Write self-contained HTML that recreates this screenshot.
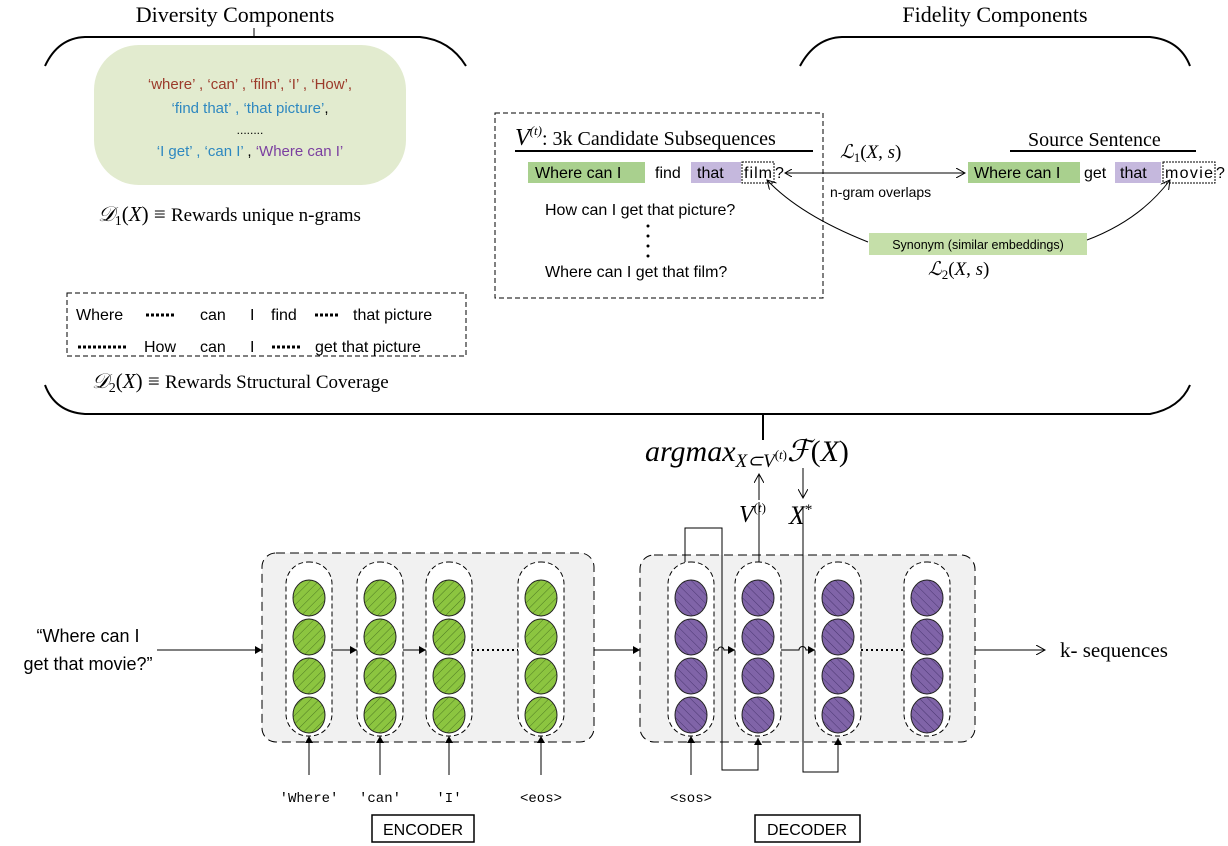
<!DOCTYPE html>
<html><head><meta charset="utf-8"><style>
body{margin:0;background:#fff;}
svg{display:block;}
.s{font-family:"Liberation Sans",sans-serif;}
.r{font-family:"Liberation Serif",serif;}
.m{font-family:"Liberation Mono",monospace;}
</style></head><body>
<svg width="1228" height="846" viewBox="0 0 1228 846" xmlns="http://www.w3.org/2000/svg">
<defs>
<pattern id="hg" width="6" height="6" patternUnits="userSpaceOnUse" patternTransform="rotate(45)">
<rect width="6" height="6" fill="#8cc540"/><line x1="0" y1="0" x2="0" y2="6" stroke="#4e7a22" stroke-width="1"/></pattern>
<pattern id="hp" width="6" height="6" patternUnits="userSpaceOnUse" patternTransform="rotate(-45)">
<rect width="6" height="6" fill="#8064a8"/><line x1="0" y1="0" x2="0" y2="6" stroke="#4a3670" stroke-width="1"/></pattern>
<marker id="a" markerWidth="10" markerHeight="10" refX="9" refY="5" orient="auto" markerUnits="userSpaceOnUse"><path d="M0,0 L9,5 L0,10" fill="none" stroke="#000" stroke-width="1"/></marker>
<marker id="af" markerWidth="8" markerHeight="8" refX="7" refY="4" orient="auto" markerUnits="userSpaceOnUse"><path d="M0,0 L7,4 L0,8 z" fill="#000"/></marker>
<marker id="as" markerWidth="8" markerHeight="8" refX="1" refY="4" orient="auto" markerUnits="userSpaceOnUse"><path d="M8,0 L1,4 L8,8" fill="none" stroke="#000" stroke-width="1"/></marker>
</defs>

<text x="235" y="22" class="r" font-size="22" text-anchor="middle">Diversity Components</text>
<text x="995" y="22" class="r" font-size="22" text-anchor="middle">Fidelity Components</text>
<g fill="none" stroke="#000" stroke-width="2">
<path d="M45,66 Q58,38 85,37 L420,37 Q450,40 466,66"/>
<line x1="254" y1="28" x2="254" y2="37" stroke-width="1"/>
<path d="M800,66 Q815,38 842,37 L1150,37 Q1180,40 1190,66"/>
<path d="M45,385 Q55,412 85,414 L1150,414 Q1180,408 1190,385"/>
<line x1="763" y1="414" x2="763" y2="440"/>
</g>

<rect x="94" y="45" width="312" height="140" rx="45" fill="#e2ebcf"/>
<g class="s" font-size="15" text-anchor="middle">
<text x="250" y="89"><tspan fill="#9b3a2a">‘where’ , ‘can’ , ‘film’, ‘I’ ,  ‘How’,</tspan></text>
<text x="250" y="113" fill="#2e88c0">‘find that’ ,  ‘that picture’<tspan fill="#000">,</tspan></text>
<text x="250" y="134" fill="#000" font-size="12">........</text>
<text x="250" y="156"><tspan fill="#2e88c0">‘I get’ ,  ‘can I’</tspan> , <tspan fill="#7b3fa0">‘Where can I’</tspan></text>
</g>
<text x="98" y="221" class="r" font-size="21"><tspan font-style="italic">𝒟</tspan><tspan font-size="14" dy="4">1</tspan><tspan dy="-4">(</tspan><tspan font-style="italic">X</tspan>) ≡  <tspan font-size="19">Rewards unique n-grams</tspan></text>

<rect x="67" y="293" width="399" height="63" fill="none" stroke="#000" stroke-dasharray="5,3"/>
<g class="s" font-size="16">
<text x="76" y="320">Where</text><text x="200" y="320">can</text><text x="250" y="320">I</text><text x="271" y="320">find</text><text x="353" y="320">that picture</text>
<text x="144" y="352">How</text><text x="200" y="352">can</text><text x="250" y="352">I</text><text x="315" y="352">get that picture</text>
</g>
<g stroke="#000" stroke-width="3" stroke-dasharray="3,2">
<line x1="146" y1="315" x2="176" y2="315"/><line x1="315" y1="315" x2="338" y2="315"/>
<line x1="78" y1="347" x2="128" y2="347"/><line x1="272" y1="347" x2="302" y2="347"/>
</g>
<text x="92" y="388" class="r" font-size="21"><tspan font-style="italic">𝒟</tspan><tspan font-size="14" dy="4">2</tspan><tspan dy="-4">(</tspan><tspan font-style="italic">X</tspan>) ≡  <tspan font-size="19">Rewards Structural Coverage</tspan></text>

<rect x="495" y="113" width="328" height="185" fill="none" stroke="#000" stroke-dasharray="5,3"/>
<text x="515" y="145" class="r" font-size="20"><tspan font-style="italic" font-size="24">V</tspan><tspan font-size="13" dy="-10" font-style="italic">(t)</tspan><tspan dy="10">: 3k Candidate Subsequences</tspan></text>
<line x1="515" y1="151" x2="813" y2="151" stroke="#000" stroke-width="2"/>
<rect x="528" y="162" width="117" height="21" fill="#a9d08e"/>
<rect x="691" y="162" width="50" height="21" fill="#c5b8dd"/>
<rect x="742" y="162" width="32" height="21" fill="none" stroke="#000" stroke-dasharray="2,1"/>
<g class="s" font-size="16">
<text x="535" y="178">Where can I</text><text x="655" y="178">find</text><text x="697" y="178">that</text><text x="744" y="178" textLength="28">film</text><text x="775" y="178">?</text>
<text x="545" y="215">How can I get that picture?</text>
<text x="545" y="277">Where can I get that film?</text>
</g>
<g fill="#000"><circle cx="648" cy="226" r="1.5"/><circle cx="648" cy="236" r="1.5"/><circle cx="648" cy="246" r="1.5"/><circle cx="648" cy="256" r="1.5"/></g>

<text x="840" y="158" class="r" font-size="19" font-style="italic">ℒ<tspan font-size="13" dy="4" font-style="normal">1</tspan><tspan dy="-4" font-style="normal">(</tspan>X<tspan font-style="normal">, </tspan>s<tspan font-style="normal">)</tspan></text>
<line x1="785" y1="173" x2="965" y2="173" stroke="#000" marker-start="url(#as)" marker-end="url(#a)"/>
<text x="830" y="197" class="s" font-size="14">n-gram overlaps</text>

<text x="1028" y="146" class="r" font-size="20">Source Sentence</text>
<line x1="1010" y1="151" x2="1196" y2="151" stroke="#000" stroke-width="2"/>
<rect x="968" y="162" width="112" height="21" fill="#a9d08e"/>
<rect x="1115" y="162" width="46" height="21" fill="#c5b8dd"/>
<rect x="1163" y="162" width="52" height="21" fill="none" stroke="#000" stroke-dasharray="2,1"/>
<g class="s" font-size="16">
<text x="974" y="178">Where can I</text><text x="1084" y="178">get</text><text x="1120" y="178">that</text><text x="1165" y="178" textLength="48">movie</text><text x="1216" y="178">?</text>
</g>
<rect x="869" y="233" width="218" height="22" fill="#c5dfa9"/>
<text x="978" y="249" class="s" font-size="12.5" text-anchor="middle">Synonym (similar embeddings)</text>
<text x="928" y="275" class="r" font-size="19" font-style="italic">ℒ<tspan font-size="13" dy="4" font-style="normal">2</tspan><tspan dy="-4" font-style="normal">(</tspan>X<tspan font-style="normal">, </tspan>s<tspan font-style="normal">)</tspan></text>
<path d="M868,242 Q800,215 767,180" fill="none" stroke="#000" marker-end="url(#a)"/>
<path d="M1087,240 Q1140,220 1170,180" fill="none" stroke="#000" marker-end="url(#a)"/>

<text x="645" y="461" class="r" font-size="30" font-style="italic">argmax<tspan font-size="19" dy="6">X⊂V</tspan><tspan font-size="13" dy="-8" font-style="normal">(</tspan><tspan font-size="13">t</tspan><tspan font-size="13" font-style="normal">)</tspan><tspan dy="2" font-size="30">ℱ</tspan><tspan font-style="normal">(</tspan>X<tspan font-style="normal">)</tspan></text>
<line x1="759" y1="500" x2="759" y2="474" stroke="#000" marker-end="url(#a)"/>
<line x1="803" y1="468" x2="803" y2="498" stroke="#000" marker-end="url(#a)"/>
<text x="739" y="522" class="r" font-size="24" font-style="italic">V<tspan font-size="13" dy="-10" font-style="normal">(</tspan><tspan font-size="13">t</tspan><tspan font-size="13" font-style="normal">)</tspan></text>
<text x="789" y="524" class="r" font-size="26" font-style="italic">X<tspan font-size="15" dy="-10" font-style="normal">*</tspan></text>

<rect x="262" y="553" width="332" height="189" rx="14" fill="#f1f1f1" stroke="#000" stroke-dasharray="9,5"/>
<rect x="640" y="555" width="335" height="187" rx="14" fill="#f1f1f1" stroke="#000" stroke-dasharray="9,5"/>

<g fill="none" stroke="#000" stroke-dasharray="5,3">
<rect x="286" y="562" width="46" height="174" rx="22" fill="#fff"/>
<rect x="357" y="562" width="46" height="174" rx="22" fill="#fff"/>
<rect x="426" y="562" width="46" height="174" rx="22" fill="#fff"/>
<rect x="518" y="562" width="46" height="174" rx="22" fill="#fff"/>
<rect x="668" y="562" width="46" height="174" rx="22" fill="#fff"/>
<rect x="735" y="562" width="46" height="174" rx="22" fill="#fff"/>
<rect x="815" y="562" width="46" height="174" rx="22" fill="#fff"/>
<rect x="904" y="562" width="46" height="174" rx="22" fill="#fff"/>
</g>
<g stroke="#222" stroke-width="1">
<g fill="url(#hg)">
<ellipse cx="309" cy="598" rx="16" ry="18"/><ellipse cx="309" cy="637" rx="16" ry="18"/><ellipse cx="309" cy="676" rx="16" ry="18"/><ellipse cx="309" cy="715" rx="16" ry="18"/>
<ellipse cx="380" cy="598" rx="16" ry="18"/><ellipse cx="380" cy="637" rx="16" ry="18"/><ellipse cx="380" cy="676" rx="16" ry="18"/><ellipse cx="380" cy="715" rx="16" ry="18"/>
<ellipse cx="449" cy="598" rx="16" ry="18"/><ellipse cx="449" cy="637" rx="16" ry="18"/><ellipse cx="449" cy="676" rx="16" ry="18"/><ellipse cx="449" cy="715" rx="16" ry="18"/>
<ellipse cx="541" cy="598" rx="16" ry="18"/><ellipse cx="541" cy="637" rx="16" ry="18"/><ellipse cx="541" cy="676" rx="16" ry="18"/><ellipse cx="541" cy="715" rx="16" ry="18"/>
</g>
<g fill="url(#hp)">
<ellipse cx="691" cy="598" rx="16" ry="18"/><ellipse cx="691" cy="637" rx="16" ry="18"/><ellipse cx="691" cy="676" rx="16" ry="18"/><ellipse cx="691" cy="715" rx="16" ry="18"/>
<ellipse cx="758" cy="598" rx="16" ry="18"/><ellipse cx="758" cy="637" rx="16" ry="18"/><ellipse cx="758" cy="676" rx="16" ry="18"/><ellipse cx="758" cy="715" rx="16" ry="18"/>
<ellipse cx="838" cy="598" rx="16" ry="18"/><ellipse cx="838" cy="637" rx="16" ry="18"/><ellipse cx="838" cy="676" rx="16" ry="18"/><ellipse cx="838" cy="715" rx="16" ry="18"/>
<ellipse cx="927" cy="598" rx="16" ry="18"/><ellipse cx="927" cy="637" rx="16" ry="18"/><ellipse cx="927" cy="676" rx="16" ry="18"/><ellipse cx="927" cy="715" rx="16" ry="18"/>
</g>
</g>

<g stroke="#000" fill="none">
<line x1="157" y1="650" x2="262" y2="650" marker-end="url(#af)"/>
<line x1="332" y1="650" x2="357" y2="650" marker-end="url(#af)"/>
<line x1="403" y1="650" x2="426" y2="650" marker-end="url(#af)"/>
<line x1="472" y1="650" x2="518" y2="650" stroke-dasharray="2,3" stroke-width="2"/>
<line x1="594" y1="650" x2="640" y2="650" marker-end="url(#af)"/>
<path d="M714,650 L718,650 A3,3 0 0 1 724,650 L735,650" marker-end="url(#af)"/>
<path d="M781,650 L799,650 A3,3 0 0 1 806,650 L815,650" marker-end="url(#af)"/>
<line x1="861" y1="650" x2="904" y2="650" stroke-dasharray="2,3" stroke-width="2"/>
<line x1="975" y1="650" x2="1045" y2="650" marker-end="url(#a)"/>
<line x1="309" y1="775" x2="309" y2="736" marker-end="url(#af)"/>
<line x1="380" y1="775" x2="380" y2="736" marker-end="url(#af)"/>
<line x1="449" y1="775" x2="449" y2="736" marker-end="url(#af)"/>
<line x1="541" y1="775" x2="541" y2="736" marker-end="url(#af)"/>
<line x1="691" y1="775" x2="691" y2="736" marker-end="url(#af)"/>
<path d="M685,562 L685,528 L722,528 L722,770 L758,770 L758,738" marker-end="url(#af)"/>
<line x1="759" y1="562" x2="759" y2="502"/>
<path d="M803,506 L803,772 L838,772 L838,738" marker-end="url(#af)"/>
</g>

<g class="s" font-size="18" text-anchor="middle">
<text x="88" y="642">“Where can I</text>
<text x="88" y="670">get that movie?”</text>
</g>
<text x="1060" y="657" class="r" font-size="21">k- sequences</text>
<g class="m" font-size="14" text-anchor="middle">
<text x="309" y="802">'Where'</text><text x="380" y="802">'can'</text><text x="449" y="802">'I'</text><text x="541" y="802">&lt;eos&gt;</text><text x="691" y="802">&lt;sos&gt;</text>
</g>
<rect x="372" y="815" width="102" height="27" fill="none" stroke="#000" stroke-width="1.5"/>
<text x="423" y="835" class="s" font-size="16" text-anchor="middle">ENCODER</text>
<rect x="755" y="815" width="105" height="27" fill="none" stroke="#000" stroke-width="1.5"/>
<text x="807" y="835" class="s" font-size="16" text-anchor="middle">DECODER</text>
</svg>
</body></html>
